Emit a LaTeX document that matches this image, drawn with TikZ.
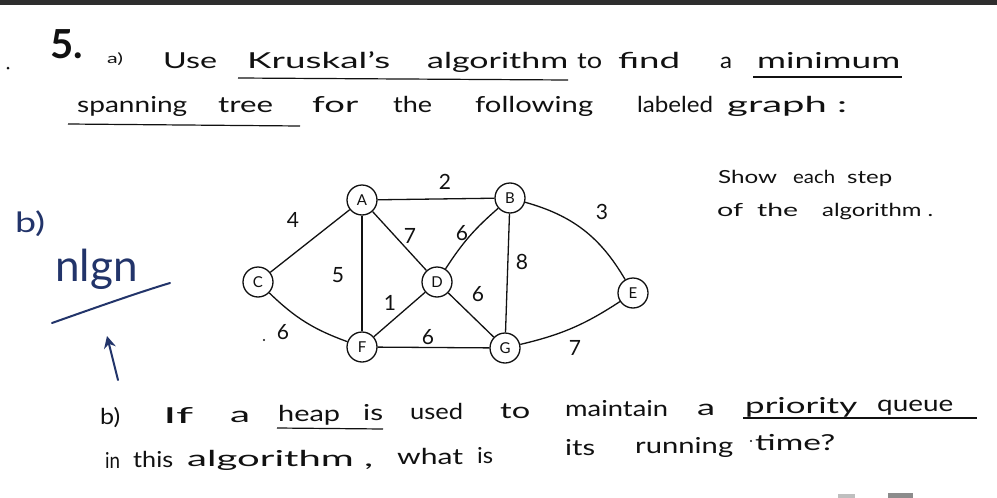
\documentclass[tikz,border=0pt]{standalone}
\usepackage{fontspec}
\usepackage{graphicx}
\setmainfont{Lato}
\usetikzlibrary{arrows.meta}
\definecolor{ink}{HTML}{111111}
\definecolor{blueink}{HTML}{22346A}
\newcommand{\sx}[2]{\resizebox{#1pt}{\height}{#2}}
\tikzset{
  word/.style={anchor=base west, inner sep=0pt, text=ink, font=\fontsize{22}{22}\selectfont},
  smallword/.style={word, font=\fontsize{18}{18}\selectfont},
  bword/.style={anchor=base west, inner sep=0pt, text=blueink},
  vtx/.style={circle, draw=ink, line width=1.3pt, minimum size=30pt, inner sep=0pt, text=ink, font=\fontsize{15}{15}\selectfont},
  edge/.style={draw=ink, line width=1.3pt},
  wt/.style={inner sep=0pt, text=ink, font=\fontsize{21}{21}\selectfont},
  uline/.style={draw=ink, line width=1.2pt},
}
\begin{document}
\begin{tikzpicture}[x=1pt,y=-1pt]
\fill[white] (0,0) rectangle (997,498);
\useasboundingbox (0,0) rectangle (997,498);
\fill[black!82] (0,0) rectangle (997,5);
\fill[black!25] (838,494) rectangle (855,498);
\fill[black!45] (888,493) rectangle (913,498);
% stray dots
\fill[ink] (8,68) circle (1.5pt);
% header line 1
\node[word, font=\bfseries\fontsize{40}{40}\selectfont] (n5) at (50,58) {5.};
\node[word, font=\fontsize{14}{14}\selectfont] (pa) at (107,63) {\sx{16}{a)}};
\node[word] (w1) at (163,68) {\sx{54}{Use}};
\node[word] (w2) at (247,68) {\sx{143}{Kruskal's}};
\node[word] (w3) at (427,68) {\sx{141}{algorithm}};
\node[word] (w4) at (577,68) {\sx{25}{to}};
\node[word] (w5) at (618,68) {\sx{62}{find}};
\node[word] (w6) at (720,68) {\sx{12}{a}};
\node[word] (w7) at (757,68) {\sx{143}{minimum}};
\draw[uline] (238,78) -- (568,80);
\draw[uline] (753,77) -- (902,77);
% header line 2
\node[word] (v1) at (77,112) {\sx{110}{spanning}};
\node[word] (v2) at (218,112) {\sx{55}{tree}};
\node[word] (v3) at (312,112) {\sx{46}{for}};
\node[word] (v4) at (393,112) {\sx{39}{the}};
\node[word] (v5) at (475,112) {\sx{118}{following}};
\node[word] (v6) at (637,112) {\sx{76}{labeled}};
\node[word] (v7) at (727,112) {\sx{120}{graph :}};
\draw[uline] (68,124) -- (300,126);
% side note
\node[smallword] (s1) at (718,183) {\sx{59}{Show}};
\node[smallword] (s2) at (793,183) {\sx{42}{each}};
\node[smallword] (s3) at (847,183) {\sx{45}{step}};
\node[smallword] (s4) at (717,216) {\sx{26}{of}};
\node[smallword] (s5) at (757,216) {\sx{41}{the}};
\node[smallword] (s6) at (822,216) {\sx{111}{algorithm .}};
% blue notes
\node[bword, font=\fontsize{28}{28}\selectfont] (bb) at (15,232) {\sx{30}{b)}};
\node[bword, font=\fontsize{44}{44}\selectfont] (nl) at (55,281) {nlgn};
\draw[blueink, line width=2pt, line cap=round] (52,323) .. controls (100,306) and (140,292) .. (170,283);
\coordinate (atail) at (118,380);
\coordinate (ahead) at (107,336);
\draw[blueink, line width=2pt, line cap=round, -{Stealth[length=12pt,width=12pt]}] (atail) -- (ahead);
% graph
\node[vtx] (A) at (362,200) {A};
\node[vtx] (B) at (510,198) {B};
\node[vtx] (C) at (258,282) {C};
\node[vtx] (D) at (437,282) {D};
\node[vtx] (E) at (633,293) {E};
\node[vtx] (F) at (362,347) {F};
\node[vtx] (G) at (505,348) {G};
\draw[edge] (C) -- (A);
\draw[edge] (C) to[bend right=12] (F);
\draw[edge] (A) -- (B);
\draw[edge] (A) -- (F);
\draw[edge] (A) -- (D);
\draw[edge] (D) to[bend left=8] (B);
\draw[edge] (B) -- (G);
\draw[edge] (B) to[bend left=22] (E);
\draw[edge] (F) -- (D);
\draw[edge] (D) -- (G);
\draw[edge] (F) -- (G);
\draw[edge] (G) to[bend right=10] (E);
\node[wt] (l1) at (445,182) {2};
\node[wt] (l2) at (293,220) {4};
\node[wt] (l3) at (410,236) {7};
\node[wt] (l4) at (462,233) {6};
\node[wt] (l5) at (602,212) {3};
\node[wt] (l6) at (522,262) {8};
\node[wt] (l7) at (338,275) {5};
\node[wt] (l8) at (390,303) {1};
\node[wt] (l9) at (478,294) {6};
\node[wt] (l10) at (283,332) {6};
\fill[ink] (264,340) circle (1.2pt);
\node[wt] (l11) at (428,337) {6};
\node[wt] (l12) at (575,348) {7};
% bottom line 1
\node[word] (b1) at (100,424) {\sx{20}{b)}};
\node[word] (b2) at (163,423) {\sx{30}{If}};
\node[word] (b3) at (230,422) {\sx{20}{a}};
\node[word] (b4) at (278,421) {\sx{62}{heap}};
\node[word] (b5) at (363,420) {\sx{20}{is}};
\node[word] (b6) at (410,419) {\sx{53}{used}};
\node[word] (b7) at (500,418) {\sx{30}{to}};
\node[word] (b8) at (565,416) {\sx{103}{maintain}};
\node[word] (b9) at (697,415) {\sx{18}{a}};
\node[word] (b10) at (745,413) {\sx{112}{priority}};
\node[word] (b11) at (877,411) {\sx{76}{queue}};
\draw[uline] (277,428) -- (383,429);
\draw[uline] (743,418) -- (977,418);
% bottom line 2
\node[word] (c1) at (105,468) {\sx{15}{in}};
\node[word] (c2) at (133,467) {\sx{40}{this}};
\node[word] (c3) at (187,466) {\sx{186}{algorithm ,}};
\node[word] (c4) at (397,464) {\sx{66}{what}};
\node[word] (c5) at (477,463) {\sx{16}{is}};
\node[word] (c6) at (565,455) {\sx{30}{its}};
\node[word] (c7) at (635,453) {\sx{98}{running}};
\fill[ink] (751,441) circle (1.2pt);
\node[word] (c8) at (755,450) {\sx{80}{time?}};
\end{tikzpicture}
\end{document}
